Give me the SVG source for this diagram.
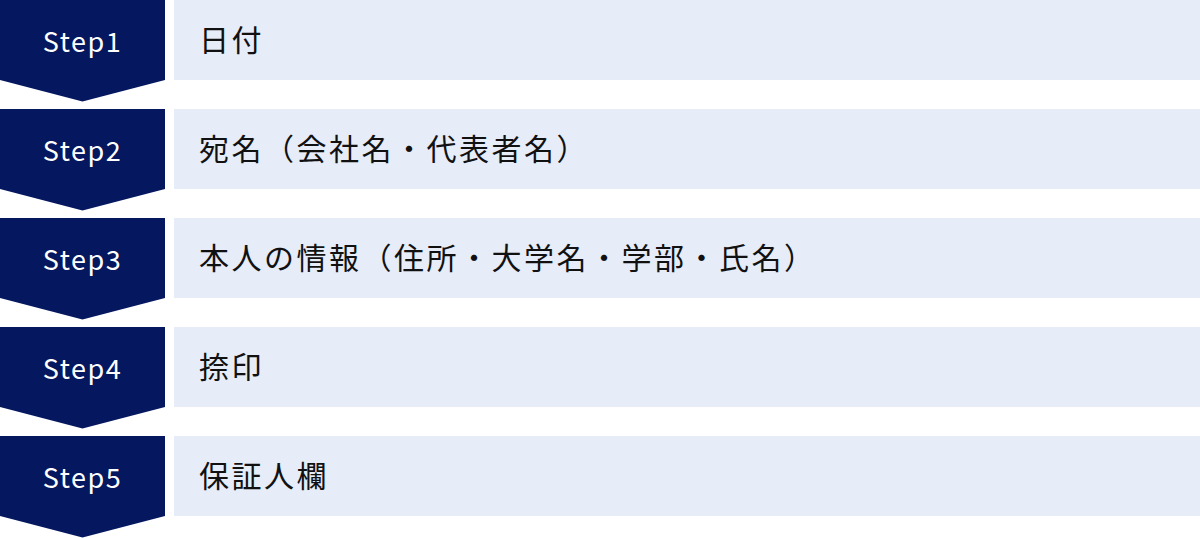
<svg xmlns="http://www.w3.org/2000/svg" width="1200" height="538" viewBox="0 0 1200 538">
<style>
.step{fill:#04175F}
.bar{fill:#E6ECF8}
.lbl{font-family:"Noto Sans CJK JP","Noto Sans",sans-serif;font-size:27px;fill:#FFFFFF;letter-spacing:1.5px}
.txt{font-family:"Noto Sans CJK JP","Noto Sans",sans-serif;font-size:30px;fill:#111111;letter-spacing:2.5px}
</style>
<defs>
<path id="chev" d="M0 0H165V80L82.5 101.5L0 80Z"/>
</defs>
<g id="row1">
<use href="#chev" class="step" y="0"/>
<rect class="bar" x="174" y="0" width="1026" height="80"/>
<text class="lbl" x="82.5" y="52" text-anchor="middle">Step1</text>
<text class="txt" x="199" y="51">日付</text>
</g>
<g id="row2">
<use href="#chev" class="step" y="109"/>
<rect class="bar" x="174" y="109" width="1026" height="80"/>
<text class="lbl" x="82.5" y="161" text-anchor="middle">Step2</text>
<text class="txt" x="199" y="160">宛名（会社名・代表者名）</text>
</g>
<g id="row3">
<use href="#chev" class="step" y="218"/>
<rect class="bar" x="174" y="218" width="1026" height="80"/>
<text class="lbl" x="82.5" y="270" text-anchor="middle">Step3</text>
<text class="txt" x="199" y="269">本人の情報（住所・大学名・学部・氏名）</text>
</g>
<g id="row4">
<use href="#chev" class="step" y="327"/>
<rect class="bar" x="174" y="327" width="1026" height="80"/>
<text class="lbl" x="82.5" y="379" text-anchor="middle">Step4</text>
<text class="txt" x="199" y="378">捺印</text>
</g>
<g id="row5">
<use href="#chev" class="step" y="436"/>
<rect class="bar" x="174" y="436" width="1026" height="80"/>
<text class="lbl" x="82.5" y="488" text-anchor="middle">Step5</text>
<text class="txt" x="199" y="487">保証人欄</text>
</g>
<g id="connectors"/>
</svg>
